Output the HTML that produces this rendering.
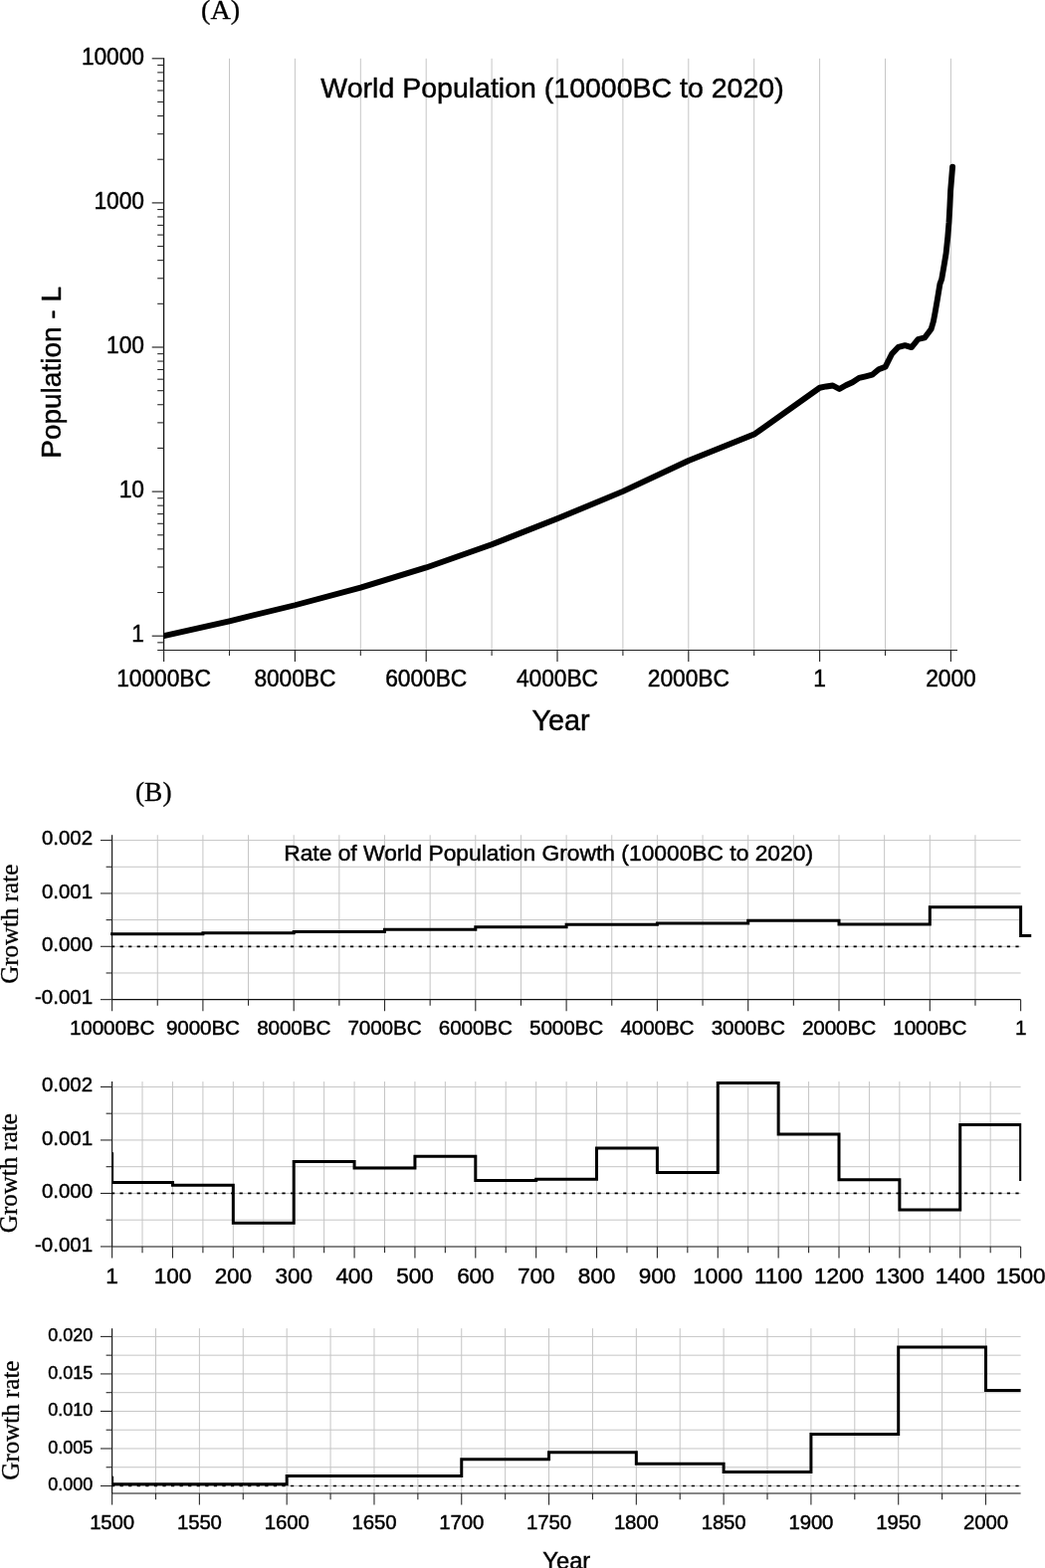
<!DOCTYPE html>
<html><head><meta charset="utf-8"><title>World Population</title>
<style>html,body{margin:0;padding:0;background:#fff}svg{display:block}text{fill:#000}</style>
</head><body>
<svg width="1050" height="1576" viewBox="0 0 1050 1576">
<rect width="1050" height="1576" fill="#fff"/>
<line x1="230.50" y1="58.80" x2="230.50" y2="653.40" stroke="#c6c6c6" stroke-width="1" />
<line x1="296.40" y1="58.80" x2="296.40" y2="653.40" stroke="#c6c6c6" stroke-width="1" />
<line x1="362.30" y1="58.80" x2="362.30" y2="653.40" stroke="#c6c6c6" stroke-width="1" />
<line x1="428.20" y1="58.80" x2="428.20" y2="653.40" stroke="#c6c6c6" stroke-width="1" />
<line x1="494.10" y1="58.80" x2="494.10" y2="653.40" stroke="#c6c6c6" stroke-width="1" />
<line x1="560.00" y1="58.80" x2="560.00" y2="653.40" stroke="#c6c6c6" stroke-width="1" />
<line x1="625.90" y1="58.80" x2="625.90" y2="653.40" stroke="#c6c6c6" stroke-width="1" />
<line x1="691.80" y1="58.80" x2="691.80" y2="653.40" stroke="#c6c6c6" stroke-width="1" />
<line x1="757.70" y1="58.80" x2="757.70" y2="653.40" stroke="#c6c6c6" stroke-width="1" />
<line x1="823.60" y1="58.80" x2="823.60" y2="653.40" stroke="#c6c6c6" stroke-width="1" />
<line x1="889.50" y1="58.80" x2="889.50" y2="653.40" stroke="#c6c6c6" stroke-width="1" />
<line x1="955.40" y1="58.80" x2="955.40" y2="653.40" stroke="#c6c6c6" stroke-width="1" />
<line x1="164.60" y1="58.30" x2="164.60" y2="653.40" stroke="#111" stroke-width="1.25" />
<line x1="158.20" y1="653.40" x2="961.99" y2="653.40" stroke="#222" stroke-width="1.05" />
<line x1="152.70" y1="639.20" x2="164.60" y2="639.20" stroke="#2a2a2a" stroke-width="1.2" />
<text x="144.80" y="645.10" font-size="22.8" text-anchor="end" font-family='"Liberation Sans", Arial, sans-serif' stroke="#000" stroke-width="0.45" letter-spacing="-0.1" transform="translate(0,645.10) scale(1,1.02) translate(0,-645.10)">1</text>
<line x1="158.20" y1="595.52" x2="164.60" y2="595.52" stroke="#2a2a2a" stroke-width="1.1" />
<line x1="158.20" y1="569.97" x2="164.60" y2="569.97" stroke="#2a2a2a" stroke-width="1.1" />
<line x1="158.20" y1="551.84" x2="164.60" y2="551.84" stroke="#2a2a2a" stroke-width="1.1" />
<line x1="158.20" y1="537.78" x2="164.60" y2="537.78" stroke="#2a2a2a" stroke-width="1.1" />
<line x1="158.20" y1="526.29" x2="164.60" y2="526.29" stroke="#2a2a2a" stroke-width="1.1" />
<line x1="158.20" y1="516.58" x2="164.60" y2="516.58" stroke="#2a2a2a" stroke-width="1.1" />
<line x1="158.20" y1="508.16" x2="164.60" y2="508.16" stroke="#2a2a2a" stroke-width="1.1" />
<line x1="158.20" y1="500.74" x2="164.60" y2="500.74" stroke="#2a2a2a" stroke-width="1.1" />
<line x1="152.70" y1="494.10" x2="164.60" y2="494.10" stroke="#2a2a2a" stroke-width="1.2" />
<text x="144.80" y="500.00" font-size="22.8" text-anchor="end" font-family='"Liberation Sans", Arial, sans-serif' stroke="#000" stroke-width="0.45" letter-spacing="-0.1" transform="translate(0,500.00) scale(1,1.02) translate(0,-500.00)">10</text>
<line x1="158.20" y1="450.42" x2="164.60" y2="450.42" stroke="#2a2a2a" stroke-width="1.1" />
<line x1="158.20" y1="424.87" x2="164.60" y2="424.87" stroke="#2a2a2a" stroke-width="1.1" />
<line x1="158.20" y1="406.74" x2="164.60" y2="406.74" stroke="#2a2a2a" stroke-width="1.1" />
<line x1="158.20" y1="392.68" x2="164.60" y2="392.68" stroke="#2a2a2a" stroke-width="1.1" />
<line x1="158.20" y1="381.19" x2="164.60" y2="381.19" stroke="#2a2a2a" stroke-width="1.1" />
<line x1="158.20" y1="371.48" x2="164.60" y2="371.48" stroke="#2a2a2a" stroke-width="1.1" />
<line x1="158.20" y1="363.06" x2="164.60" y2="363.06" stroke="#2a2a2a" stroke-width="1.1" />
<line x1="158.20" y1="355.64" x2="164.60" y2="355.64" stroke="#2a2a2a" stroke-width="1.1" />
<line x1="152.70" y1="349.00" x2="164.60" y2="349.00" stroke="#2a2a2a" stroke-width="1.2" />
<text x="144.80" y="354.90" font-size="22.8" text-anchor="end" font-family='"Liberation Sans", Arial, sans-serif' stroke="#000" stroke-width="0.45" letter-spacing="-0.1" transform="translate(0,354.90) scale(1,1.02) translate(0,-354.90)">100</text>
<line x1="158.20" y1="305.32" x2="164.60" y2="305.32" stroke="#2a2a2a" stroke-width="1.1" />
<line x1="158.20" y1="279.77" x2="164.60" y2="279.77" stroke="#2a2a2a" stroke-width="1.1" />
<line x1="158.20" y1="261.64" x2="164.60" y2="261.64" stroke="#2a2a2a" stroke-width="1.1" />
<line x1="158.20" y1="247.58" x2="164.60" y2="247.58" stroke="#2a2a2a" stroke-width="1.1" />
<line x1="158.20" y1="236.09" x2="164.60" y2="236.09" stroke="#2a2a2a" stroke-width="1.1" />
<line x1="158.20" y1="226.38" x2="164.60" y2="226.38" stroke="#2a2a2a" stroke-width="1.1" />
<line x1="158.20" y1="217.96" x2="164.60" y2="217.96" stroke="#2a2a2a" stroke-width="1.1" />
<line x1="158.20" y1="210.54" x2="164.60" y2="210.54" stroke="#2a2a2a" stroke-width="1.1" />
<line x1="152.70" y1="203.90" x2="164.60" y2="203.90" stroke="#2a2a2a" stroke-width="1.2" />
<text x="144.80" y="209.80" font-size="22.8" text-anchor="end" font-family='"Liberation Sans", Arial, sans-serif' stroke="#000" stroke-width="0.45" letter-spacing="-0.1" transform="translate(0,209.80) scale(1,1.02) translate(0,-209.80)">1000</text>
<line x1="158.20" y1="160.22" x2="164.60" y2="160.22" stroke="#2a2a2a" stroke-width="1.1" />
<line x1="158.20" y1="134.67" x2="164.60" y2="134.67" stroke="#2a2a2a" stroke-width="1.1" />
<line x1="158.20" y1="116.54" x2="164.60" y2="116.54" stroke="#2a2a2a" stroke-width="1.1" />
<line x1="158.20" y1="102.48" x2="164.60" y2="102.48" stroke="#2a2a2a" stroke-width="1.1" />
<line x1="158.20" y1="90.99" x2="164.60" y2="90.99" stroke="#2a2a2a" stroke-width="1.1" />
<line x1="158.20" y1="81.28" x2="164.60" y2="81.28" stroke="#2a2a2a" stroke-width="1.1" />
<line x1="158.20" y1="72.86" x2="164.60" y2="72.86" stroke="#2a2a2a" stroke-width="1.1" />
<line x1="158.20" y1="65.44" x2="164.60" y2="65.44" stroke="#2a2a2a" stroke-width="1.1" />
<line x1="152.70" y1="58.80" x2="164.60" y2="58.80" stroke="#2a2a2a" stroke-width="1.2" />
<text x="144.80" y="64.70" font-size="22.8" text-anchor="end" font-family='"Liberation Sans", Arial, sans-serif' stroke="#000" stroke-width="0.45" letter-spacing="-0.1" transform="translate(0,64.70) scale(1,1.02) translate(0,-64.70)">10000</text>
<line x1="158.20" y1="645.84" x2="164.60" y2="645.84" stroke="#2a2a2a" stroke-width="1.1" />
<line x1="164.60" y1="653.40" x2="164.60" y2="664.90" stroke="#2a2a2a" stroke-width="1.2" />
<text x="164.60" y="690.20" font-size="22.8" text-anchor="middle" font-family='"Liberation Sans", Arial, sans-serif' stroke="#000" stroke-width="0.45" letter-spacing="-0.05" transform="translate(0,690.20) scale(1,1.05) translate(0,-690.20)">10000BC</text>
<line x1="230.50" y1="653.40" x2="230.50" y2="659.00" stroke="#2a2a2a" stroke-width="1.1" />
<line x1="296.40" y1="653.40" x2="296.40" y2="664.90" stroke="#2a2a2a" stroke-width="1.2" />
<text x="296.40" y="690.20" font-size="22.8" text-anchor="middle" font-family='"Liberation Sans", Arial, sans-serif' stroke="#000" stroke-width="0.45" letter-spacing="-0.05" transform="translate(0,690.20) scale(1,1.05) translate(0,-690.20)">8000BC</text>
<line x1="362.30" y1="653.40" x2="362.30" y2="659.00" stroke="#2a2a2a" stroke-width="1.1" />
<line x1="428.20" y1="653.40" x2="428.20" y2="664.90" stroke="#2a2a2a" stroke-width="1.2" />
<text x="428.20" y="690.20" font-size="22.8" text-anchor="middle" font-family='"Liberation Sans", Arial, sans-serif' stroke="#000" stroke-width="0.45" letter-spacing="-0.05" transform="translate(0,690.20) scale(1,1.05) translate(0,-690.20)">6000BC</text>
<line x1="494.10" y1="653.40" x2="494.10" y2="659.00" stroke="#2a2a2a" stroke-width="1.1" />
<line x1="560.00" y1="653.40" x2="560.00" y2="664.90" stroke="#2a2a2a" stroke-width="1.2" />
<text x="560.00" y="690.20" font-size="22.8" text-anchor="middle" font-family='"Liberation Sans", Arial, sans-serif' stroke="#000" stroke-width="0.45" letter-spacing="-0.05" transform="translate(0,690.20) scale(1,1.05) translate(0,-690.20)">4000BC</text>
<line x1="625.90" y1="653.40" x2="625.90" y2="659.00" stroke="#2a2a2a" stroke-width="1.1" />
<line x1="691.80" y1="653.40" x2="691.80" y2="664.90" stroke="#2a2a2a" stroke-width="1.2" />
<text x="691.80" y="690.20" font-size="22.8" text-anchor="middle" font-family='"Liberation Sans", Arial, sans-serif' stroke="#000" stroke-width="0.45" letter-spacing="-0.05" transform="translate(0,690.20) scale(1,1.05) translate(0,-690.20)">2000BC</text>
<line x1="757.70" y1="653.40" x2="757.70" y2="659.00" stroke="#2a2a2a" stroke-width="1.1" />
<line x1="823.60" y1="653.40" x2="823.60" y2="664.90" stroke="#2a2a2a" stroke-width="1.2" />
<text x="823.60" y="690.20" font-size="22.8" text-anchor="middle" font-family='"Liberation Sans", Arial, sans-serif' stroke="#000" stroke-width="0.45" letter-spacing="-0.05" transform="translate(0,690.20) scale(1,1.05) translate(0,-690.20)">1</text>
<line x1="889.50" y1="653.40" x2="889.50" y2="659.00" stroke="#2a2a2a" stroke-width="1.1" />
<line x1="955.40" y1="653.40" x2="955.40" y2="664.90" stroke="#2a2a2a" stroke-width="1.2" />
<text x="955.40" y="690.20" font-size="22.8" text-anchor="middle" font-family='"Liberation Sans", Arial, sans-serif' stroke="#000" stroke-width="0.45" letter-spacing="-0.05" transform="translate(0,690.20) scale(1,1.05) translate(0,-690.20)">2000</text>
<text x="555.00" y="97.50" font-size="28.5" text-anchor="middle" font-family='"Liberation Sans", Arial, sans-serif' stroke="#000" stroke-width="0.45" >World Population (10000BC to 2020)</text>
<text x="563.60" y="734.40" font-size="28.8" text-anchor="middle" font-family='"Liberation Sans", Arial, sans-serif' stroke="#000" stroke-width="0.45" >Year</text>
<text transform="translate(61.4,374.4) rotate(-90)" font-size="28" text-anchor="middle" stroke="#000" stroke-width="0.45" font-family='"Liberation Sans", Arial, sans-serif'>Population - L</text>
<text x="202.00" y="19.20" font-size="28.2" text-anchor="start" font-family='"Liberation Serif", "Times New Roman", serif' stroke="#000" stroke-width="0.3" >(A)</text>
<clipPath id="ca"><rect x="164.00" y="0" width="900" height="700"/></clipPath>
<polyline clip-path="url(#ca)" fill="none" stroke="#000" stroke-width="5.9" stroke-linejoin="round" stroke-linecap="round" points="164.60,639.20 230.50,624.27 296.40,608.25 362.30,590.64 428.20,570.42 494.10,547.23 560.00,521.32 625.90,493.87 691.80,463.01 757.70,436.58 823.60,389.76 830.19,388.47 836.78,387.50 843.37,391.01 849.96,387.25 856.55,384.27 863.14,379.89 869.73,378.35 876.32,376.67 882.91,371.33 889.50,368.86 896.09,355.79 902.68,348.78 909.27,347.15 915.86,349.10 922.45,341.00 929.04,339.45 935.63,330.79 937.90,323.00 939.70,313.50 941.90,300.80 944.40,285.60 946.20,280.50 948.70,265.90 950.60,254.50 952.30,238.00 953.50,223.50 954.40,207.00 955.10,191.70 957.10,167.60"/>
<line x1="112.60" y1="839.26" x2="112.60" y2="1004.65" stroke="#c5c5c5" stroke-width="1.0" />
<line x1="158.25" y1="839.26" x2="158.25" y2="1004.65" stroke="#c5c5c5" stroke-width="1.0" />
<line x1="203.90" y1="839.26" x2="203.90" y2="1004.65" stroke="#c5c5c5" stroke-width="1.0" />
<line x1="249.55" y1="839.26" x2="249.55" y2="1004.65" stroke="#c5c5c5" stroke-width="1.0" />
<line x1="295.20" y1="839.26" x2="295.20" y2="1004.65" stroke="#c5c5c5" stroke-width="1.0" />
<line x1="340.85" y1="839.26" x2="340.85" y2="1004.65" stroke="#c5c5c5" stroke-width="1.0" />
<line x1="386.50" y1="839.26" x2="386.50" y2="1004.65" stroke="#c5c5c5" stroke-width="1.0" />
<line x1="432.15" y1="839.26" x2="432.15" y2="1004.65" stroke="#c5c5c5" stroke-width="1.0" />
<line x1="477.80" y1="839.26" x2="477.80" y2="1004.65" stroke="#c5c5c5" stroke-width="1.0" />
<line x1="523.45" y1="839.26" x2="523.45" y2="1004.65" stroke="#c5c5c5" stroke-width="1.0" />
<line x1="569.10" y1="839.26" x2="569.10" y2="1004.65" stroke="#c5c5c5" stroke-width="1.0" />
<line x1="614.75" y1="839.26" x2="614.75" y2="1004.65" stroke="#c5c5c5" stroke-width="1.0" />
<line x1="660.40" y1="839.26" x2="660.40" y2="1004.65" stroke="#c5c5c5" stroke-width="1.0" />
<line x1="706.05" y1="839.26" x2="706.05" y2="1004.65" stroke="#c5c5c5" stroke-width="1.0" />
<line x1="751.70" y1="839.26" x2="751.70" y2="1004.65" stroke="#c5c5c5" stroke-width="1.0" />
<line x1="797.35" y1="839.26" x2="797.35" y2="1004.65" stroke="#c5c5c5" stroke-width="1.0" />
<line x1="843.00" y1="839.26" x2="843.00" y2="1004.65" stroke="#c5c5c5" stroke-width="1.0" />
<line x1="888.65" y1="839.26" x2="888.65" y2="1004.65" stroke="#c5c5c5" stroke-width="1.0" />
<line x1="934.30" y1="839.26" x2="934.30" y2="1004.65" stroke="#c5c5c5" stroke-width="1.0" />
<line x1="979.95" y1="839.26" x2="979.95" y2="1004.65" stroke="#c5c5c5" stroke-width="1.0" />
<line x1="112.60" y1="977.97" x2="1025.60" y2="977.97" stroke="#c5c5c5" stroke-width="1.0" />
<line x1="112.60" y1="951.30" x2="1025.60" y2="951.30" stroke="#c5c5c5" stroke-width="1.0" />
<line x1="112.60" y1="924.62" x2="1025.60" y2="924.62" stroke="#c5c5c5" stroke-width="1.0" />
<line x1="112.60" y1="897.95" x2="1025.60" y2="897.95" stroke="#c5c5c5" stroke-width="1.0" />
<line x1="112.60" y1="871.27" x2="1025.60" y2="871.27" stroke="#c5c5c5" stroke-width="1.0" />
<line x1="112.60" y1="844.60" x2="1025.60" y2="844.60" stroke="#c5c5c5" stroke-width="1.0" />
<line x1="112.60" y1="839.26" x2="112.60" y2="1004.65" stroke="#111" stroke-width="1.1" />
<line x1="112.60" y1="1004.65" x2="1025.60" y2="1004.65" stroke="#111" stroke-width="1.1" />
<line x1="101.00" y1="1004.65" x2="112.60" y2="1004.65" stroke="#2a2a2a" stroke-width="1.1" />
<text x="93.20" y="1009.30" font-size="20.5" text-anchor="end" font-family='"Liberation Sans", Arial, sans-serif' stroke="#000" stroke-width="0.45" >-0.001</text>
<line x1="106.60" y1="977.97" x2="112.60" y2="977.97" stroke="#2a2a2a" stroke-width="1.1" />
<line x1="101.00" y1="951.30" x2="112.60" y2="951.30" stroke="#2a2a2a" stroke-width="1.1" />
<text x="93.20" y="955.95" font-size="20.5" text-anchor="end" font-family='"Liberation Sans", Arial, sans-serif' stroke="#000" stroke-width="0.45" >0.000</text>
<line x1="106.60" y1="924.62" x2="112.60" y2="924.62" stroke="#2a2a2a" stroke-width="1.1" />
<line x1="101.00" y1="897.95" x2="112.60" y2="897.95" stroke="#2a2a2a" stroke-width="1.1" />
<text x="93.20" y="902.60" font-size="20.5" text-anchor="end" font-family='"Liberation Sans", Arial, sans-serif' stroke="#000" stroke-width="0.45" >0.001</text>
<line x1="106.60" y1="871.27" x2="112.60" y2="871.27" stroke="#2a2a2a" stroke-width="1.1" />
<line x1="101.00" y1="844.60" x2="112.60" y2="844.60" stroke="#2a2a2a" stroke-width="1.1" />
<text x="93.20" y="849.25" font-size="20.5" text-anchor="end" font-family='"Liberation Sans", Arial, sans-serif' stroke="#000" stroke-width="0.45" >0.002</text>
<line x1="112.60" y1="1004.65" x2="112.60" y2="1016.25" stroke="#2a2a2a" stroke-width="1.1" />
<text x="112.60" y="1040.40" font-size="20.7" text-anchor="middle" font-family='"Liberation Sans", Arial, sans-serif' stroke="#000" stroke-width="0.45" letter-spacing="-0.12">10000BC</text>
<line x1="158.25" y1="1004.65" x2="158.25" y2="1010.85" stroke="#2a2a2a" stroke-width="1.1" />
<line x1="203.90" y1="1004.65" x2="203.90" y2="1016.25" stroke="#2a2a2a" stroke-width="1.1" />
<text x="203.90" y="1040.40" font-size="20.7" text-anchor="middle" font-family='"Liberation Sans", Arial, sans-serif' stroke="#000" stroke-width="0.45" letter-spacing="-0.12">9000BC</text>
<line x1="249.55" y1="1004.65" x2="249.55" y2="1010.85" stroke="#2a2a2a" stroke-width="1.1" />
<line x1="295.20" y1="1004.65" x2="295.20" y2="1016.25" stroke="#2a2a2a" stroke-width="1.1" />
<text x="295.20" y="1040.40" font-size="20.7" text-anchor="middle" font-family='"Liberation Sans", Arial, sans-serif' stroke="#000" stroke-width="0.45" letter-spacing="-0.12">8000BC</text>
<line x1="340.85" y1="1004.65" x2="340.85" y2="1010.85" stroke="#2a2a2a" stroke-width="1.1" />
<line x1="386.50" y1="1004.65" x2="386.50" y2="1016.25" stroke="#2a2a2a" stroke-width="1.1" />
<text x="386.50" y="1040.40" font-size="20.7" text-anchor="middle" font-family='"Liberation Sans", Arial, sans-serif' stroke="#000" stroke-width="0.45" letter-spacing="-0.12">7000BC</text>
<line x1="432.15" y1="1004.65" x2="432.15" y2="1010.85" stroke="#2a2a2a" stroke-width="1.1" />
<line x1="477.80" y1="1004.65" x2="477.80" y2="1016.25" stroke="#2a2a2a" stroke-width="1.1" />
<text x="477.80" y="1040.40" font-size="20.7" text-anchor="middle" font-family='"Liberation Sans", Arial, sans-serif' stroke="#000" stroke-width="0.45" letter-spacing="-0.12">6000BC</text>
<line x1="523.45" y1="1004.65" x2="523.45" y2="1010.85" stroke="#2a2a2a" stroke-width="1.1" />
<line x1="569.10" y1="1004.65" x2="569.10" y2="1016.25" stroke="#2a2a2a" stroke-width="1.1" />
<text x="569.10" y="1040.40" font-size="20.7" text-anchor="middle" font-family='"Liberation Sans", Arial, sans-serif' stroke="#000" stroke-width="0.45" letter-spacing="-0.12">5000BC</text>
<line x1="614.75" y1="1004.65" x2="614.75" y2="1010.85" stroke="#2a2a2a" stroke-width="1.1" />
<line x1="660.40" y1="1004.65" x2="660.40" y2="1016.25" stroke="#2a2a2a" stroke-width="1.1" />
<text x="660.40" y="1040.40" font-size="20.7" text-anchor="middle" font-family='"Liberation Sans", Arial, sans-serif' stroke="#000" stroke-width="0.45" letter-spacing="-0.12">4000BC</text>
<line x1="706.05" y1="1004.65" x2="706.05" y2="1010.85" stroke="#2a2a2a" stroke-width="1.1" />
<line x1="751.70" y1="1004.65" x2="751.70" y2="1016.25" stroke="#2a2a2a" stroke-width="1.1" />
<text x="751.70" y="1040.40" font-size="20.7" text-anchor="middle" font-family='"Liberation Sans", Arial, sans-serif' stroke="#000" stroke-width="0.45" letter-spacing="-0.12">3000BC</text>
<line x1="797.35" y1="1004.65" x2="797.35" y2="1010.85" stroke="#2a2a2a" stroke-width="1.1" />
<line x1="843.00" y1="1004.65" x2="843.00" y2="1016.25" stroke="#2a2a2a" stroke-width="1.1" />
<text x="843.00" y="1040.40" font-size="20.7" text-anchor="middle" font-family='"Liberation Sans", Arial, sans-serif' stroke="#000" stroke-width="0.45" letter-spacing="-0.12">2000BC</text>
<line x1="888.65" y1="1004.65" x2="888.65" y2="1010.85" stroke="#2a2a2a" stroke-width="1.1" />
<line x1="934.30" y1="1004.65" x2="934.30" y2="1016.25" stroke="#2a2a2a" stroke-width="1.1" />
<text x="934.30" y="1040.40" font-size="20.7" text-anchor="middle" font-family='"Liberation Sans", Arial, sans-serif' stroke="#000" stroke-width="0.45" letter-spacing="-0.12">1000BC</text>
<line x1="979.95" y1="1004.65" x2="979.95" y2="1010.85" stroke="#2a2a2a" stroke-width="1.1" />
<line x1="1025.60" y1="1004.65" x2="1025.60" y2="1016.25" stroke="#2a2a2a" stroke-width="1.1" />
<text x="1025.60" y="1040.40" font-size="20.7" text-anchor="middle" font-family='"Liberation Sans", Arial, sans-serif' stroke="#000" stroke-width="0.45" letter-spacing="-0.12">1</text>
<line x1="112.00" y1="951.30" x2="1025.60" y2="951.30" stroke="#000" stroke-width="1.7" stroke-dasharray="3.2 5.37"/>
<path d="M112.60,938.66 H203.90 V937.75 H295.20 V936.42 H386.50 V934.17 H477.80 V931.67 H569.10 V929.37 H660.40 V928.04 H751.70 V925.16 H843.00 V928.89 H934.30 V911.66 H1025.60 V940.42 H1034.73" fill="none" stroke="#000" stroke-width="3" stroke-linejoin="miter" stroke-linecap="square"/>
<text x="285.20" y="865.00" font-size="22.8" text-anchor="start" font-family='"Liberation Sans", Arial, sans-serif' stroke="#000" stroke-width="0.45" >Rate of World Population Growth (10000BC to 2020)</text>
<text transform="translate(17.8,928.8) rotate(-90)" font-size="25" text-anchor="middle" stroke="#000" stroke-width="0.3" font-family='"Liberation Serif", "Times New Roman", serif'>Growth rate</text>
<text x="136.00" y="804.80" font-size="27.4" text-anchor="start" font-family='"Liberation Serif", "Times New Roman", serif' stroke="#000" stroke-width="0.3" >(B)</text>
<line x1="112.60" y1="1087.08" x2="112.60" y2="1252.93" stroke="#c5c5c5" stroke-width="1.0" />
<line x1="143.03" y1="1087.08" x2="143.03" y2="1252.93" stroke="#c5c5c5" stroke-width="1.0" />
<line x1="173.47" y1="1087.08" x2="173.47" y2="1252.93" stroke="#c5c5c5" stroke-width="1.0" />
<line x1="203.90" y1="1087.08" x2="203.90" y2="1252.93" stroke="#c5c5c5" stroke-width="1.0" />
<line x1="234.33" y1="1087.08" x2="234.33" y2="1252.93" stroke="#c5c5c5" stroke-width="1.0" />
<line x1="264.77" y1="1087.08" x2="264.77" y2="1252.93" stroke="#c5c5c5" stroke-width="1.0" />
<line x1="295.20" y1="1087.08" x2="295.20" y2="1252.93" stroke="#c5c5c5" stroke-width="1.0" />
<line x1="325.63" y1="1087.08" x2="325.63" y2="1252.93" stroke="#c5c5c5" stroke-width="1.0" />
<line x1="356.07" y1="1087.08" x2="356.07" y2="1252.93" stroke="#c5c5c5" stroke-width="1.0" />
<line x1="386.50" y1="1087.08" x2="386.50" y2="1252.93" stroke="#c5c5c5" stroke-width="1.0" />
<line x1="416.93" y1="1087.08" x2="416.93" y2="1252.93" stroke="#c5c5c5" stroke-width="1.0" />
<line x1="447.37" y1="1087.08" x2="447.37" y2="1252.93" stroke="#c5c5c5" stroke-width="1.0" />
<line x1="477.80" y1="1087.08" x2="477.80" y2="1252.93" stroke="#c5c5c5" stroke-width="1.0" />
<line x1="508.23" y1="1087.08" x2="508.23" y2="1252.93" stroke="#c5c5c5" stroke-width="1.0" />
<line x1="538.67" y1="1087.08" x2="538.67" y2="1252.93" stroke="#c5c5c5" stroke-width="1.0" />
<line x1="569.10" y1="1087.08" x2="569.10" y2="1252.93" stroke="#c5c5c5" stroke-width="1.0" />
<line x1="599.53" y1="1087.08" x2="599.53" y2="1252.93" stroke="#c5c5c5" stroke-width="1.0" />
<line x1="629.97" y1="1087.08" x2="629.97" y2="1252.93" stroke="#c5c5c5" stroke-width="1.0" />
<line x1="660.40" y1="1087.08" x2="660.40" y2="1252.93" stroke="#c5c5c5" stroke-width="1.0" />
<line x1="690.83" y1="1087.08" x2="690.83" y2="1252.93" stroke="#c5c5c5" stroke-width="1.0" />
<line x1="721.27" y1="1087.08" x2="721.27" y2="1252.93" stroke="#c5c5c5" stroke-width="1.0" />
<line x1="751.70" y1="1087.08" x2="751.70" y2="1252.93" stroke="#c5c5c5" stroke-width="1.0" />
<line x1="782.13" y1="1087.08" x2="782.13" y2="1252.93" stroke="#c5c5c5" stroke-width="1.0" />
<line x1="812.57" y1="1087.08" x2="812.57" y2="1252.93" stroke="#c5c5c5" stroke-width="1.0" />
<line x1="843.00" y1="1087.08" x2="843.00" y2="1252.93" stroke="#c5c5c5" stroke-width="1.0" />
<line x1="873.43" y1="1087.08" x2="873.43" y2="1252.93" stroke="#c5c5c5" stroke-width="1.0" />
<line x1="903.87" y1="1087.08" x2="903.87" y2="1252.93" stroke="#c5c5c5" stroke-width="1.0" />
<line x1="934.30" y1="1087.08" x2="934.30" y2="1252.93" stroke="#c5c5c5" stroke-width="1.0" />
<line x1="964.73" y1="1087.08" x2="964.73" y2="1252.93" stroke="#c5c5c5" stroke-width="1.0" />
<line x1="995.17" y1="1087.08" x2="995.17" y2="1252.93" stroke="#c5c5c5" stroke-width="1.0" />
<line x1="112.60" y1="1226.18" x2="1025.60" y2="1226.18" stroke="#c5c5c5" stroke-width="1.0" />
<line x1="112.60" y1="1199.43" x2="1025.60" y2="1199.43" stroke="#c5c5c5" stroke-width="1.0" />
<line x1="112.60" y1="1172.68" x2="1025.60" y2="1172.68" stroke="#c5c5c5" stroke-width="1.0" />
<line x1="112.60" y1="1145.93" x2="1025.60" y2="1145.93" stroke="#c5c5c5" stroke-width="1.0" />
<line x1="112.60" y1="1119.18" x2="1025.60" y2="1119.18" stroke="#c5c5c5" stroke-width="1.0" />
<line x1="112.60" y1="1092.43" x2="1025.60" y2="1092.43" stroke="#c5c5c5" stroke-width="1.0" />
<line x1="112.60" y1="1087.08" x2="112.60" y2="1252.93" stroke="#111" stroke-width="1.1" />
<line x1="112.60" y1="1252.93" x2="1025.60" y2="1252.93" stroke="#111" stroke-width="1.1" />
<line x1="101.00" y1="1252.93" x2="112.60" y2="1252.93" stroke="#2a2a2a" stroke-width="1.1" />
<text x="93.20" y="1257.58" font-size="20.5" text-anchor="end" font-family='"Liberation Sans", Arial, sans-serif' stroke="#000" stroke-width="0.45" >-0.001</text>
<line x1="106.60" y1="1226.18" x2="112.60" y2="1226.18" stroke="#2a2a2a" stroke-width="1.1" />
<line x1="101.00" y1="1199.43" x2="112.60" y2="1199.43" stroke="#2a2a2a" stroke-width="1.1" />
<text x="93.20" y="1204.08" font-size="20.5" text-anchor="end" font-family='"Liberation Sans", Arial, sans-serif' stroke="#000" stroke-width="0.45" >0.000</text>
<line x1="106.60" y1="1172.68" x2="112.60" y2="1172.68" stroke="#2a2a2a" stroke-width="1.1" />
<line x1="101.00" y1="1145.93" x2="112.60" y2="1145.93" stroke="#2a2a2a" stroke-width="1.1" />
<text x="93.20" y="1150.58" font-size="20.5" text-anchor="end" font-family='"Liberation Sans", Arial, sans-serif' stroke="#000" stroke-width="0.45" >0.001</text>
<line x1="106.60" y1="1119.18" x2="112.60" y2="1119.18" stroke="#2a2a2a" stroke-width="1.1" />
<line x1="101.00" y1="1092.43" x2="112.60" y2="1092.43" stroke="#2a2a2a" stroke-width="1.1" />
<text x="93.20" y="1097.08" font-size="20.5" text-anchor="end" font-family='"Liberation Sans", Arial, sans-serif' stroke="#000" stroke-width="0.45" >0.002</text>
<line x1="112.60" y1="1252.93" x2="112.60" y2="1264.53" stroke="#2a2a2a" stroke-width="1.1" />
<text x="112.60" y="1289.60" font-size="22.6" text-anchor="middle" font-family='"Liberation Sans", Arial, sans-serif' stroke="#000" stroke-width="0.45" letter-spacing="-0.12">1</text>
<line x1="143.03" y1="1252.93" x2="143.03" y2="1259.13" stroke="#2a2a2a" stroke-width="1.1" />
<line x1="173.47" y1="1252.93" x2="173.47" y2="1264.53" stroke="#2a2a2a" stroke-width="1.1" />
<text x="173.47" y="1289.60" font-size="22.6" text-anchor="middle" font-family='"Liberation Sans", Arial, sans-serif' stroke="#000" stroke-width="0.45" letter-spacing="-0.12">100</text>
<line x1="203.90" y1="1252.93" x2="203.90" y2="1259.13" stroke="#2a2a2a" stroke-width="1.1" />
<line x1="234.33" y1="1252.93" x2="234.33" y2="1264.53" stroke="#2a2a2a" stroke-width="1.1" />
<text x="234.33" y="1289.60" font-size="22.6" text-anchor="middle" font-family='"Liberation Sans", Arial, sans-serif' stroke="#000" stroke-width="0.45" letter-spacing="-0.12">200</text>
<line x1="264.77" y1="1252.93" x2="264.77" y2="1259.13" stroke="#2a2a2a" stroke-width="1.1" />
<line x1="295.20" y1="1252.93" x2="295.20" y2="1264.53" stroke="#2a2a2a" stroke-width="1.1" />
<text x="295.20" y="1289.60" font-size="22.6" text-anchor="middle" font-family='"Liberation Sans", Arial, sans-serif' stroke="#000" stroke-width="0.45" letter-spacing="-0.12">300</text>
<line x1="325.63" y1="1252.93" x2="325.63" y2="1259.13" stroke="#2a2a2a" stroke-width="1.1" />
<line x1="356.07" y1="1252.93" x2="356.07" y2="1264.53" stroke="#2a2a2a" stroke-width="1.1" />
<text x="356.07" y="1289.60" font-size="22.6" text-anchor="middle" font-family='"Liberation Sans", Arial, sans-serif' stroke="#000" stroke-width="0.45" letter-spacing="-0.12">400</text>
<line x1="386.50" y1="1252.93" x2="386.50" y2="1259.13" stroke="#2a2a2a" stroke-width="1.1" />
<line x1="416.93" y1="1252.93" x2="416.93" y2="1264.53" stroke="#2a2a2a" stroke-width="1.1" />
<text x="416.93" y="1289.60" font-size="22.6" text-anchor="middle" font-family='"Liberation Sans", Arial, sans-serif' stroke="#000" stroke-width="0.45" letter-spacing="-0.12">500</text>
<line x1="447.37" y1="1252.93" x2="447.37" y2="1259.13" stroke="#2a2a2a" stroke-width="1.1" />
<line x1="477.80" y1="1252.93" x2="477.80" y2="1264.53" stroke="#2a2a2a" stroke-width="1.1" />
<text x="477.80" y="1289.60" font-size="22.6" text-anchor="middle" font-family='"Liberation Sans", Arial, sans-serif' stroke="#000" stroke-width="0.45" letter-spacing="-0.12">600</text>
<line x1="508.23" y1="1252.93" x2="508.23" y2="1259.13" stroke="#2a2a2a" stroke-width="1.1" />
<line x1="538.67" y1="1252.93" x2="538.67" y2="1264.53" stroke="#2a2a2a" stroke-width="1.1" />
<text x="538.67" y="1289.60" font-size="22.6" text-anchor="middle" font-family='"Liberation Sans", Arial, sans-serif' stroke="#000" stroke-width="0.45" letter-spacing="-0.12">700</text>
<line x1="569.10" y1="1252.93" x2="569.10" y2="1259.13" stroke="#2a2a2a" stroke-width="1.1" />
<line x1="599.53" y1="1252.93" x2="599.53" y2="1264.53" stroke="#2a2a2a" stroke-width="1.1" />
<text x="599.53" y="1289.60" font-size="22.6" text-anchor="middle" font-family='"Liberation Sans", Arial, sans-serif' stroke="#000" stroke-width="0.45" letter-spacing="-0.12">800</text>
<line x1="629.97" y1="1252.93" x2="629.97" y2="1259.13" stroke="#2a2a2a" stroke-width="1.1" />
<line x1="660.40" y1="1252.93" x2="660.40" y2="1264.53" stroke="#2a2a2a" stroke-width="1.1" />
<text x="660.40" y="1289.60" font-size="22.6" text-anchor="middle" font-family='"Liberation Sans", Arial, sans-serif' stroke="#000" stroke-width="0.45" letter-spacing="-0.12">900</text>
<line x1="690.83" y1="1252.93" x2="690.83" y2="1259.13" stroke="#2a2a2a" stroke-width="1.1" />
<line x1="721.27" y1="1252.93" x2="721.27" y2="1264.53" stroke="#2a2a2a" stroke-width="1.1" />
<text x="721.27" y="1289.60" font-size="22.6" text-anchor="middle" font-family='"Liberation Sans", Arial, sans-serif' stroke="#000" stroke-width="0.45" letter-spacing="-0.12">1000</text>
<line x1="751.70" y1="1252.93" x2="751.70" y2="1259.13" stroke="#2a2a2a" stroke-width="1.1" />
<line x1="782.13" y1="1252.93" x2="782.13" y2="1264.53" stroke="#2a2a2a" stroke-width="1.1" />
<text x="782.13" y="1289.60" font-size="22.6" text-anchor="middle" font-family='"Liberation Sans", Arial, sans-serif' stroke="#000" stroke-width="0.45" letter-spacing="-0.12">1100</text>
<line x1="812.57" y1="1252.93" x2="812.57" y2="1259.13" stroke="#2a2a2a" stroke-width="1.1" />
<line x1="843.00" y1="1252.93" x2="843.00" y2="1264.53" stroke="#2a2a2a" stroke-width="1.1" />
<text x="843.00" y="1289.60" font-size="22.6" text-anchor="middle" font-family='"Liberation Sans", Arial, sans-serif' stroke="#000" stroke-width="0.45" letter-spacing="-0.12">1200</text>
<line x1="873.43" y1="1252.93" x2="873.43" y2="1259.13" stroke="#2a2a2a" stroke-width="1.1" />
<line x1="903.87" y1="1252.93" x2="903.87" y2="1264.53" stroke="#2a2a2a" stroke-width="1.1" />
<text x="903.87" y="1289.60" font-size="22.6" text-anchor="middle" font-family='"Liberation Sans", Arial, sans-serif' stroke="#000" stroke-width="0.45" letter-spacing="-0.12">1300</text>
<line x1="934.30" y1="1252.93" x2="934.30" y2="1259.13" stroke="#2a2a2a" stroke-width="1.1" />
<line x1="964.73" y1="1252.93" x2="964.73" y2="1264.53" stroke="#2a2a2a" stroke-width="1.1" />
<text x="964.73" y="1289.60" font-size="22.6" text-anchor="middle" font-family='"Liberation Sans", Arial, sans-serif' stroke="#000" stroke-width="0.45" letter-spacing="-0.12">1400</text>
<line x1="995.17" y1="1252.93" x2="995.17" y2="1259.13" stroke="#2a2a2a" stroke-width="1.1" />
<line x1="1025.60" y1="1252.93" x2="1025.60" y2="1264.53" stroke="#2a2a2a" stroke-width="1.1" />
<text x="1025.60" y="1289.60" font-size="22.6" text-anchor="middle" font-family='"Liberation Sans", Arial, sans-serif' stroke="#000" stroke-width="0.45" letter-spacing="-0.12">1500</text>
<line x1="112.00" y1="1199.43" x2="1025.60" y2="1199.43" stroke="#000" stroke-width="1.7" stroke-dasharray="3.2 5.37"/>
<clipPath id="c2"><rect x="112.00" y="1084.08" width="914.20" height="171.85"/></clipPath>
<path clip-path="url(#c2)" d="M112.60,1158.24 V1188.52 H173.47 V1191.14 H234.33 V1229.28 H295.20 V1167.49 H356.07 V1174.12 H416.93 V1162.19 H477.80 V1186.38 H538.67 V1185.15 H599.53 V1154.12 H660.40 V1178.46 H721.27 V1088.47 H782.13 V1139.88 H843.00 V1185.63 H903.87 V1216.02 H964.73 V1130.58 H1025.60 V1187.12" fill="none" stroke="#000" stroke-width="3" stroke-linejoin="miter"/>
<text transform="translate(17.0,1179.1) rotate(-90)" font-size="25" text-anchor="middle" stroke="#000" stroke-width="0.3" font-family='"Liberation Serif", "Times New Roman", serif'>Growth rate</text>
<line x1="112.60" y1="1335.14" x2="112.60" y2="1501.01" stroke="#c5c5c5" stroke-width="1.0" />
<line x1="156.49" y1="1335.14" x2="156.49" y2="1501.01" stroke="#c5c5c5" stroke-width="1.0" />
<line x1="200.39" y1="1335.14" x2="200.39" y2="1501.01" stroke="#c5c5c5" stroke-width="1.0" />
<line x1="244.28" y1="1335.14" x2="244.28" y2="1501.01" stroke="#c5c5c5" stroke-width="1.0" />
<line x1="288.18" y1="1335.14" x2="288.18" y2="1501.01" stroke="#c5c5c5" stroke-width="1.0" />
<line x1="332.07" y1="1335.14" x2="332.07" y2="1501.01" stroke="#c5c5c5" stroke-width="1.0" />
<line x1="375.97" y1="1335.14" x2="375.97" y2="1501.01" stroke="#c5c5c5" stroke-width="1.0" />
<line x1="419.86" y1="1335.14" x2="419.86" y2="1501.01" stroke="#c5c5c5" stroke-width="1.0" />
<line x1="463.75" y1="1335.14" x2="463.75" y2="1501.01" stroke="#c5c5c5" stroke-width="1.0" />
<line x1="507.65" y1="1335.14" x2="507.65" y2="1501.01" stroke="#c5c5c5" stroke-width="1.0" />
<line x1="551.54" y1="1335.14" x2="551.54" y2="1501.01" stroke="#c5c5c5" stroke-width="1.0" />
<line x1="595.44" y1="1335.14" x2="595.44" y2="1501.01" stroke="#c5c5c5" stroke-width="1.0" />
<line x1="639.33" y1="1335.14" x2="639.33" y2="1501.01" stroke="#c5c5c5" stroke-width="1.0" />
<line x1="683.22" y1="1335.14" x2="683.22" y2="1501.01" stroke="#c5c5c5" stroke-width="1.0" />
<line x1="727.12" y1="1335.14" x2="727.12" y2="1501.01" stroke="#c5c5c5" stroke-width="1.0" />
<line x1="771.01" y1="1335.14" x2="771.01" y2="1501.01" stroke="#c5c5c5" stroke-width="1.0" />
<line x1="814.91" y1="1335.14" x2="814.91" y2="1501.01" stroke="#c5c5c5" stroke-width="1.0" />
<line x1="858.80" y1="1335.14" x2="858.80" y2="1501.01" stroke="#c5c5c5" stroke-width="1.0" />
<line x1="902.70" y1="1335.14" x2="902.70" y2="1501.01" stroke="#c5c5c5" stroke-width="1.0" />
<line x1="946.59" y1="1335.14" x2="946.59" y2="1501.01" stroke="#c5c5c5" stroke-width="1.0" />
<line x1="990.48" y1="1335.14" x2="990.48" y2="1501.01" stroke="#c5c5c5" stroke-width="1.0" />
<line x1="112.60" y1="1493.50" x2="1025.60" y2="1493.50" stroke="#c5c5c5" stroke-width="1.0" />
<line x1="112.60" y1="1474.74" x2="1025.60" y2="1474.74" stroke="#c5c5c5" stroke-width="1.0" />
<line x1="112.60" y1="1455.97" x2="1025.60" y2="1455.97" stroke="#c5c5c5" stroke-width="1.0" />
<line x1="112.60" y1="1437.21" x2="1025.60" y2="1437.21" stroke="#c5c5c5" stroke-width="1.0" />
<line x1="112.60" y1="1418.45" x2="1025.60" y2="1418.45" stroke="#c5c5c5" stroke-width="1.0" />
<line x1="112.60" y1="1399.69" x2="1025.60" y2="1399.69" stroke="#c5c5c5" stroke-width="1.0" />
<line x1="112.60" y1="1380.92" x2="1025.60" y2="1380.92" stroke="#c5c5c5" stroke-width="1.0" />
<line x1="112.60" y1="1362.16" x2="1025.60" y2="1362.16" stroke="#c5c5c5" stroke-width="1.0" />
<line x1="112.60" y1="1343.40" x2="1025.60" y2="1343.40" stroke="#c5c5c5" stroke-width="1.0" />
<line x1="112.60" y1="1335.14" x2="112.60" y2="1501.01" stroke="#111" stroke-width="1.1" />
<line x1="112.60" y1="1501.01" x2="1025.60" y2="1501.01" stroke="#111" stroke-width="1.1" />
<line x1="101.00" y1="1493.50" x2="112.60" y2="1493.50" stroke="#2a2a2a" stroke-width="1.1" />
<text x="93.20" y="1498.15" font-size="18" text-anchor="end" font-family='"Liberation Sans", Arial, sans-serif' stroke="#000" stroke-width="0.45" >0.000</text>
<line x1="106.60" y1="1474.74" x2="112.60" y2="1474.74" stroke="#2a2a2a" stroke-width="1.1" />
<line x1="101.00" y1="1455.97" x2="112.60" y2="1455.97" stroke="#2a2a2a" stroke-width="1.1" />
<text x="93.20" y="1460.62" font-size="18" text-anchor="end" font-family='"Liberation Sans", Arial, sans-serif' stroke="#000" stroke-width="0.45" >0.005</text>
<line x1="106.60" y1="1437.21" x2="112.60" y2="1437.21" stroke="#2a2a2a" stroke-width="1.1" />
<line x1="101.00" y1="1418.45" x2="112.60" y2="1418.45" stroke="#2a2a2a" stroke-width="1.1" />
<text x="93.20" y="1423.10" font-size="18" text-anchor="end" font-family='"Liberation Sans", Arial, sans-serif' stroke="#000" stroke-width="0.45" >0.010</text>
<line x1="106.60" y1="1399.69" x2="112.60" y2="1399.69" stroke="#2a2a2a" stroke-width="1.1" />
<line x1="101.00" y1="1380.92" x2="112.60" y2="1380.92" stroke="#2a2a2a" stroke-width="1.1" />
<text x="93.20" y="1385.58" font-size="18" text-anchor="end" font-family='"Liberation Sans", Arial, sans-serif' stroke="#000" stroke-width="0.45" >0.015</text>
<line x1="106.60" y1="1362.16" x2="112.60" y2="1362.16" stroke="#2a2a2a" stroke-width="1.1" />
<line x1="101.00" y1="1343.40" x2="112.60" y2="1343.40" stroke="#2a2a2a" stroke-width="1.1" />
<text x="93.20" y="1348.05" font-size="18" text-anchor="end" font-family='"Liberation Sans", Arial, sans-serif' stroke="#000" stroke-width="0.45" >0.020</text>
<line x1="112.60" y1="1501.01" x2="112.60" y2="1512.61" stroke="#2a2a2a" stroke-width="1.1" />
<text x="112.60" y="1536.80" font-size="20.4" text-anchor="middle" font-family='"Liberation Sans", Arial, sans-serif' stroke="#000" stroke-width="0.45" letter-spacing="-0.12">1500</text>
<line x1="156.49" y1="1501.01" x2="156.49" y2="1507.21" stroke="#2a2a2a" stroke-width="1.1" />
<line x1="200.39" y1="1501.01" x2="200.39" y2="1512.61" stroke="#2a2a2a" stroke-width="1.1" />
<text x="200.39" y="1536.80" font-size="20.4" text-anchor="middle" font-family='"Liberation Sans", Arial, sans-serif' stroke="#000" stroke-width="0.45" letter-spacing="-0.12">1550</text>
<line x1="244.28" y1="1501.01" x2="244.28" y2="1507.21" stroke="#2a2a2a" stroke-width="1.1" />
<line x1="288.18" y1="1501.01" x2="288.18" y2="1512.61" stroke="#2a2a2a" stroke-width="1.1" />
<text x="288.18" y="1536.80" font-size="20.4" text-anchor="middle" font-family='"Liberation Sans", Arial, sans-serif' stroke="#000" stroke-width="0.45" letter-spacing="-0.12">1600</text>
<line x1="332.07" y1="1501.01" x2="332.07" y2="1507.21" stroke="#2a2a2a" stroke-width="1.1" />
<line x1="375.97" y1="1501.01" x2="375.97" y2="1512.61" stroke="#2a2a2a" stroke-width="1.1" />
<text x="375.97" y="1536.80" font-size="20.4" text-anchor="middle" font-family='"Liberation Sans", Arial, sans-serif' stroke="#000" stroke-width="0.45" letter-spacing="-0.12">1650</text>
<line x1="419.86" y1="1501.01" x2="419.86" y2="1507.21" stroke="#2a2a2a" stroke-width="1.1" />
<line x1="463.75" y1="1501.01" x2="463.75" y2="1512.61" stroke="#2a2a2a" stroke-width="1.1" />
<text x="463.75" y="1536.80" font-size="20.4" text-anchor="middle" font-family='"Liberation Sans", Arial, sans-serif' stroke="#000" stroke-width="0.45" letter-spacing="-0.12">1700</text>
<line x1="507.65" y1="1501.01" x2="507.65" y2="1507.21" stroke="#2a2a2a" stroke-width="1.1" />
<line x1="551.54" y1="1501.01" x2="551.54" y2="1512.61" stroke="#2a2a2a" stroke-width="1.1" />
<text x="551.54" y="1536.80" font-size="20.4" text-anchor="middle" font-family='"Liberation Sans", Arial, sans-serif' stroke="#000" stroke-width="0.45" letter-spacing="-0.12">1750</text>
<line x1="595.44" y1="1501.01" x2="595.44" y2="1507.21" stroke="#2a2a2a" stroke-width="1.1" />
<line x1="639.33" y1="1501.01" x2="639.33" y2="1512.61" stroke="#2a2a2a" stroke-width="1.1" />
<text x="639.33" y="1536.80" font-size="20.4" text-anchor="middle" font-family='"Liberation Sans", Arial, sans-serif' stroke="#000" stroke-width="0.45" letter-spacing="-0.12">1800</text>
<line x1="683.22" y1="1501.01" x2="683.22" y2="1507.21" stroke="#2a2a2a" stroke-width="1.1" />
<line x1="727.12" y1="1501.01" x2="727.12" y2="1512.61" stroke="#2a2a2a" stroke-width="1.1" />
<text x="727.12" y="1536.80" font-size="20.4" text-anchor="middle" font-family='"Liberation Sans", Arial, sans-serif' stroke="#000" stroke-width="0.45" letter-spacing="-0.12">1850</text>
<line x1="771.01" y1="1501.01" x2="771.01" y2="1507.21" stroke="#2a2a2a" stroke-width="1.1" />
<line x1="814.91" y1="1501.01" x2="814.91" y2="1512.61" stroke="#2a2a2a" stroke-width="1.1" />
<text x="814.91" y="1536.80" font-size="20.4" text-anchor="middle" font-family='"Liberation Sans", Arial, sans-serif' stroke="#000" stroke-width="0.45" letter-spacing="-0.12">1900</text>
<line x1="858.80" y1="1501.01" x2="858.80" y2="1507.21" stroke="#2a2a2a" stroke-width="1.1" />
<line x1="902.70" y1="1501.01" x2="902.70" y2="1512.61" stroke="#2a2a2a" stroke-width="1.1" />
<text x="902.70" y="1536.80" font-size="20.4" text-anchor="middle" font-family='"Liberation Sans", Arial, sans-serif' stroke="#000" stroke-width="0.45" letter-spacing="-0.12">1950</text>
<line x1="946.59" y1="1501.01" x2="946.59" y2="1507.21" stroke="#2a2a2a" stroke-width="1.1" />
<line x1="990.48" y1="1501.01" x2="990.48" y2="1512.61" stroke="#2a2a2a" stroke-width="1.1" />
<text x="990.48" y="1536.80" font-size="20.4" text-anchor="middle" font-family='"Liberation Sans", Arial, sans-serif' stroke="#000" stroke-width="0.45" letter-spacing="-0.12">2000</text>
<line x1="112.00" y1="1493.50" x2="1025.60" y2="1493.50" stroke="#000" stroke-width="1.7" stroke-dasharray="3.2 5.37"/>
<clipPath id="c3"><rect x="112.00" y="1332.14" width="914.20" height="171.86"/></clipPath>
<path clip-path="url(#c3)" d="M112.60,1483.74 V1491.70 H288.18 V1483.52 H463.75 V1466.78 H551.54 V1459.80 H639.33 V1471.14 H727.12 V1479.47 H814.91 V1441.49 H902.70 V1354.06 H990.48 V1397.44 H1025.60" fill="none" stroke="#000" stroke-width="3" stroke-linejoin="miter"/>
<text transform="translate(19.1,1427.6) rotate(-90)" font-size="25" text-anchor="middle" stroke="#000" stroke-width="0.3" font-family='"Liberation Serif", "Times New Roman", serif'>Growth rate</text>
<text x="569.30" y="1576.60" font-size="23.7" text-anchor="middle" font-family='"Liberation Sans", Arial, sans-serif' stroke="#000" stroke-width="0.45" >Year</text>
</svg>
</body></html>
